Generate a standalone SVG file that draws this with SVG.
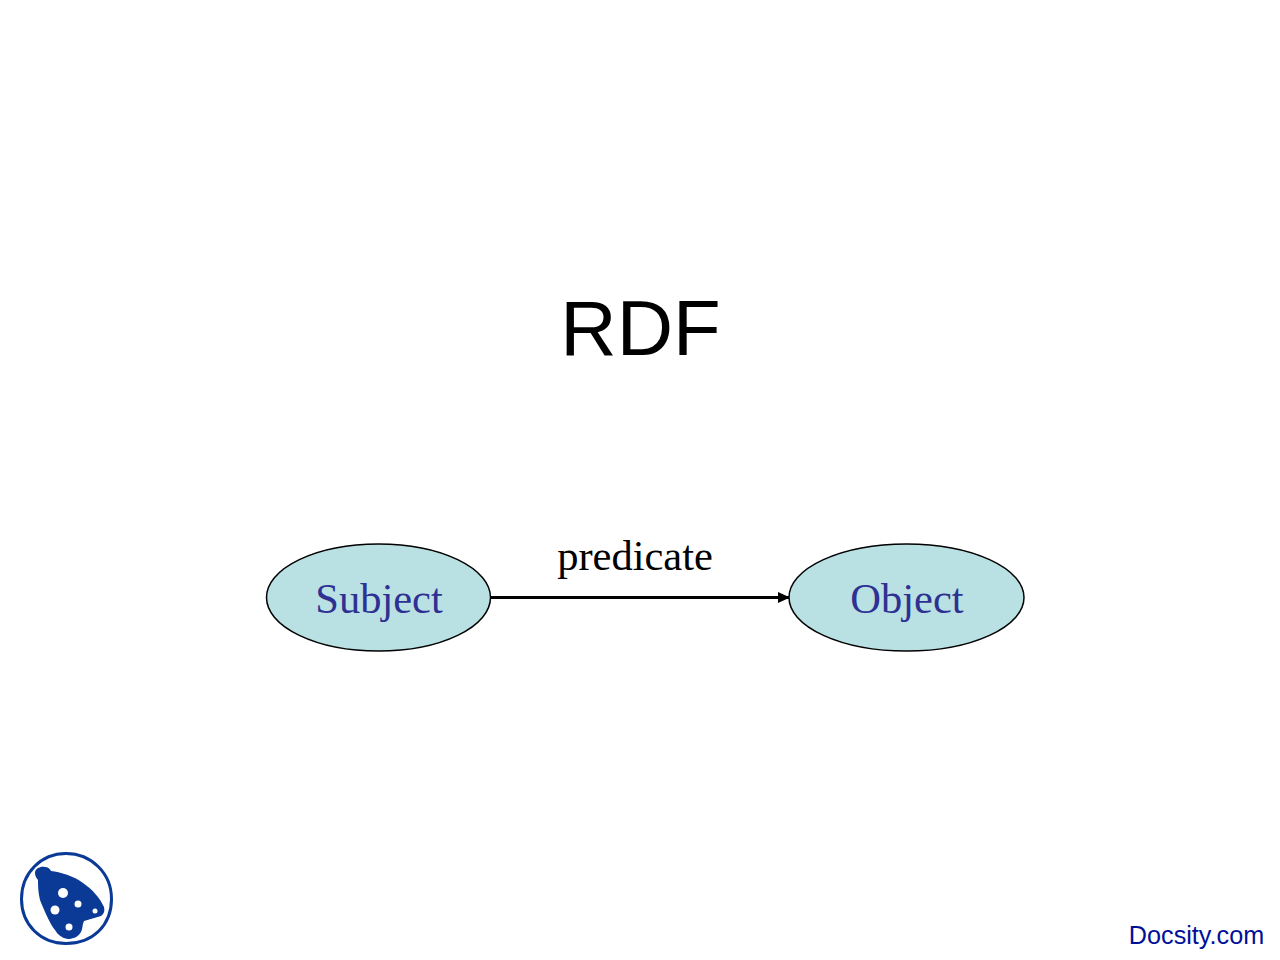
<svg xmlns="http://www.w3.org/2000/svg" width="1280" height="960" viewBox="0 0 1280 960">
<style>
.n{fill:#b9e0e3;stroke:#000;stroke-width:1.5}
.l{font-family:"Liberation Serif",serif;font-size:42.500px;fill:#2e3192;text-anchor:middle}
</style>
<defs><marker id="a" markerUnits="userSpaceOnUse" markerWidth="13" markerHeight="12" refX="12" refY="5.500" orient="auto"><path d="M0 0L12 5.500L0 11z" fill="#000"/></marker></defs>
<rect width="1280" height="960" fill="#fff"/>
<text x="640.500" y="355" font-family="Liberation Sans,sans-serif" font-size="78" text-anchor="middle">RDF</text>
<g id="connectors"><line x1="491" y1="597.500" x2="790" y2="597.500" stroke="#000" stroke-width="3" marker-end="url(#a)"/></g>
<text x="635" y="570" font-family="Liberation Serif,serif" font-size="42.500" text-anchor="middle">predicate</text>
<g id="subject"><ellipse class="n" cx="378.500" cy="597.500" rx="112" ry="53.500"/><text class="l" x="379" y="613">Subject</text></g>
<g id="object"><ellipse class="n" cx="906.500" cy="597.500" rx="117.500" ry="53.500"/><text class="l" x="907" y="613">Object</text></g>
<g id="logo"><path d="M66 853.500C91 853.500 111.500 873 111.500 899C111.500 925 93 943.500 66 943.500C41 943.500 21.500 925 21.500 899C21.500 873 41 853.500 66 853.500z" fill="#fff" stroke="#0a3a96" stroke-width="3"/><path d="M35 873C35 868 41 866 45 867C48 867 50 869 51 871C60 872 74 876 83 883C92 889 100 898 104 907C105 911 104 914 101 916L84 921C82 925 83 928 81 932C78 937 73 939 68 939C62 938 58 935 55 930C50 924 44 910 40 900C38 892 38 885 38 880C36 878 35 875 35 873z" fill="#0a3a96"/><g fill="#fff"><circle cx="63" cy="893" r="5"/><circle cx="55" cy="910" r="4.500"/><circle cx="78" cy="904" r="3.500"/><circle cx="69" cy="927" r="3.500"/><circle cx="95" cy="911" r="2.500"/></g></g>
<text x="1196.500" y="943.500" font-family="Liberation Sans,sans-serif" font-size="25.200" fill="#00109a" text-anchor="middle">Docsity.com</text>
</svg>
